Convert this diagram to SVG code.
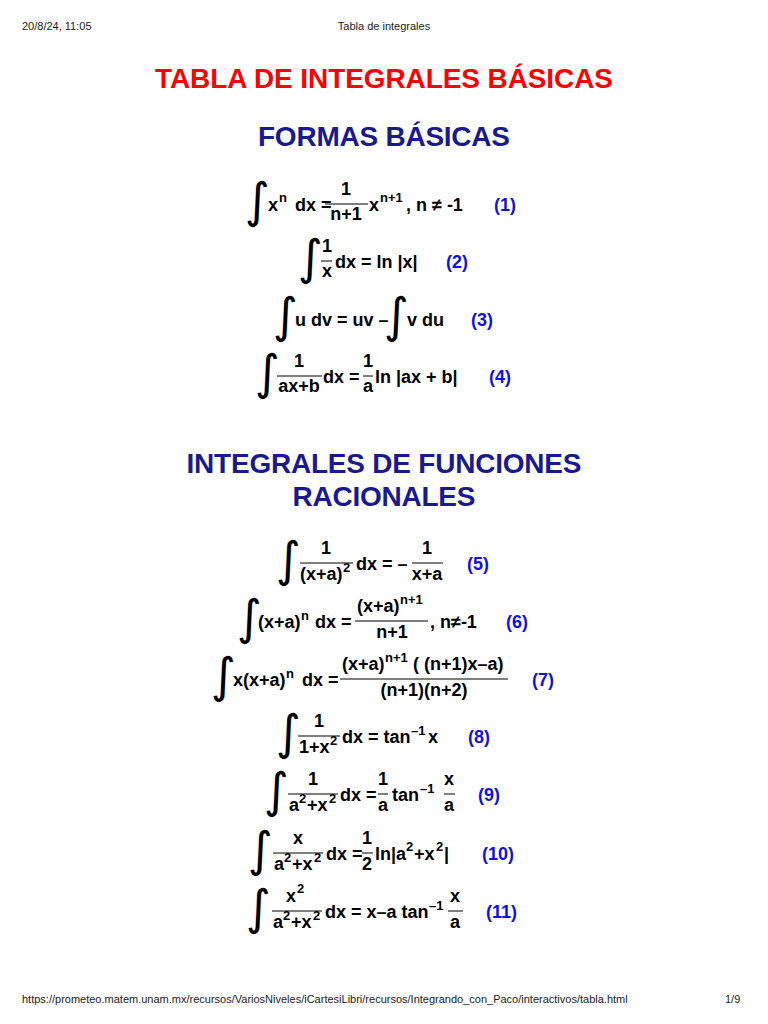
<svg xmlns="http://www.w3.org/2000/svg" width="768" height="1024" viewBox="0 0 768 1024">
<style>
text{font-family:"Liberation Sans",Arial,sans-serif}
.h{font-size:11px;fill:#222}
.m{font-size:18px;font-weight:bold;fill:#000}
.s{font-size:13px;font-weight:bold;fill:#000}
.c{text-anchor:middle}
.n{font-size:18px;font-weight:bold;fill:#1010e0}
.i{font-family:"DejaVu Sans",sans-serif;font-size:48px;fill:#000}
.t{font-size:28px;font-weight:bold;fill:#1a1a8c;text-anchor:middle}
line{stroke:#000;stroke-width:1}
</style>
<rect width="768" height="1024" fill="#fff"/>
<text class="h" x="22" y="30">20/8/24, 11:05</text>
<text class="h c" x="384" y="30">Tabla de integrales</text>
<text class="h" x="22" y="1003">https://prometeo.matem.unam.mx/recursos/VariosNiveles/iCartesiLibri/recursos/Integrando_con_Paco/interactivos/tabla.html</text>
<text class="h" x="725" y="1003">1/9</text>
<text x="384" y="88" font-size="28" font-weight="bold" fill="#ff0000" text-anchor="middle" textLength="458">TABLA DE INTEGRALES BÁSICAS</text>
<text class="t" x="384" y="146" textLength="252">FORMAS BÁSICAS</text>
<text class="t" x="384" y="473" textLength="395">INTEGRALES DE FUNCIONES</text>
<text class="t" x="384" y="506" textLength="183">RACIONALES</text>

<!-- (1) -->
<text class="i" x="245" y="217">∫</text>
<text class="m" x="268" y="211">x</text><text class="s" x="279" y="202">n</text>
<text class="m" x="295" y="211">dx =</text>
<line x1="325" y1="204" x2="368" y2="204"/>
<text class="m c" x="346" y="195">1</text><text class="m c" x="346" y="220">n+1</text>
<text class="m" x="369" y="211">x</text><text class="s" x="380" y="202">n+1</text>
<text class="m" x="406" y="211">, n ≠ -1</text>
<text class="n" x="494" y="211">(1)</text>
<!-- (2) -->
<text class="i" x="298" y="274">∫</text>
<line x1="321" y1="261" x2="332" y2="261"/>
<text class="m c" x="327" y="252">1</text><text class="m c" x="327" y="277">x</text>
<text class="m" x="335" y="268">dx = ln |x|</text>
<text class="n" x="446" y="268">(2)</text>
<!-- (3) -->
<text class="i" x="273" y="332">∫</text>
<text class="m" x="295" y="326">u dv = uv –</text>
<text class="i" x="384" y="332">∫</text>
<text class="m" x="407" y="326">v du</text>
<text class="n" x="471" y="326">(3)</text>
<!-- (4) -->
<text class="i" x="255" y="389">∫</text>
<line x1="277" y1="376" x2="322" y2="376"/>
<text class="m c" x="299" y="367">1</text><text class="m c" x="299" y="392">ax+b</text>
<text class="m" x="323" y="383">dx =</text>
<line x1="363" y1="376" x2="373" y2="376"/>
<text class="m c" x="368" y="367">1</text><text class="m c" x="368" y="392">a</text>
<text class="m" x="375" y="383">ln |ax + b|</text>
<text class="n" x="489" y="383">(4)</text>

<!-- (5) -->
<text class="i" x="276" y="576">∫</text>
<line x1="300" y1="563" x2="353" y2="563"/>
<text class="m c" x="326" y="554">1</text><text class="m" x="300" y="580">(x+a)</text><text class="s" x="343" y="572">2</text>
<text class="m" x="356" y="570">dx = –</text>
<line x1="412" y1="563" x2="443" y2="563"/>
<text class="m c" x="427" y="554">1</text><text class="m c" x="427" y="580">x+a</text>
<text class="n" x="467" y="570">(5)</text>
<!-- (6) -->
<text class="i" x="237" y="634">∫</text>
<text class="m" x="258" y="628">(x+a)</text><text class="s" x="301" y="620">n</text><text class="m" x="315" y="628">dx =</text>
<line x1="355" y1="621" x2="428" y2="621"/>
<text class="m" x="357" y="612">(x+a)</text><text class="s" x="400" y="604">n+1</text>
<text class="m c" x="392" y="638">n+1</text>
<text class="m" x="430" y="628">, n≠-1</text>
<text class="n" x="506" y="628">(6)</text>
<!-- (7) -->
<text class="i" x="211" y="692">∫</text>
<text class="m" x="233" y="686">x(x+a)</text><text class="s" x="286" y="678">n</text><text class="m" x="302" y="686">dx =</text>
<line x1="340" y1="679" x2="508" y2="679"/>
<text class="m" x="342" y="670">(x+a)</text><text class="s" x="385" y="662">n+1</text><text class="m" x="413" y="670">( (n+1)x–a)</text>
<text class="m c" x="424" y="696">(n+1)(n+2)</text>
<text class="n" x="532" y="686">(7)</text>
<!-- (8) -->
<text class="i" x="276" y="749">∫</text>
<line x1="298" y1="736" x2="340" y2="736"/>
<text class="m c" x="319" y="727">1</text><text class="m" x="299" y="753">1+x</text><text class="s" x="330" y="745">2</text>
<text class="m" x="342" y="743">dx = tan</text><text class="s" x="411" y="735">–1</text><text class="m" x="428" y="743">x</text>
<text class="n" x="468" y="743">(8)</text>
<!-- (9) -->
<text class="i" x="264" y="807">∫</text>
<line x1="288" y1="794" x2="338" y2="794"/>
<text class="m c" x="313" y="785">1</text><text class="m" x="289" y="811">a</text><text class="s" x="299" y="803">2</text><text class="m" x="307" y="811">+x</text><text class="s" x="329" y="803">2</text>
<text class="m" x="340" y="801">dx =</text>
<line x1="378" y1="794" x2="388" y2="794"/>
<text class="m c" x="383" y="785">1</text><text class="m c" x="383" y="811">a</text>
<text class="m" x="392" y="801">tan</text><text class="s" x="420" y="793">–1</text>
<line x1="444" y1="794" x2="455" y2="794"/>
<text class="m c" x="449" y="785">x</text><text class="m c" x="449" y="811">a</text>
<text class="n" x="478" y="801">(9)</text>
<!-- (10) -->
<text class="i" x="248" y="866">∫</text>
<line x1="273" y1="853" x2="323" y2="853"/>
<text class="m c" x="298" y="844">x</text><text class="m" x="274" y="870">a</text><text class="s" x="284" y="862">2</text><text class="m" x="292" y="870">+x</text><text class="s" x="314" y="862">2</text>
<text class="m" x="326" y="860">dx =</text>
<line x1="362" y1="853" x2="373" y2="853"/>
<text class="m c" x="367" y="844">1</text><text class="m c" x="367" y="870">2</text>
<text class="m" x="375" y="860">ln|a</text><text class="s" x="406" y="851">2</text><text class="m" x="414" y="860">+x</text><text class="s" x="436" y="851">2</text><text class="m" x="444" y="860">|</text>
<text class="n" x="482" y="860">(10)</text>
<!-- (11) -->
<text class="i" x="246" y="924">∫</text>
<line x1="272" y1="911" x2="322" y2="911"/>
<text class="m" x="286" y="902">x</text><text class="s" x="297" y="893">2</text>
<text class="m" x="273" y="928">a</text><text class="s" x="283" y="920">2</text><text class="m" x="291" y="928">+x</text><text class="s" x="313" y="920">2</text>
<text class="m" x="325" y="918">dx = x–a tan</text><text class="s" x="429" y="910">–1</text>
<line x1="448" y1="911" x2="463" y2="911"/>
<text class="m c" x="455" y="902">x</text><text class="m c" x="455" y="928">a</text>
<text class="n" x="486" y="918">(11)</text>
</svg>
